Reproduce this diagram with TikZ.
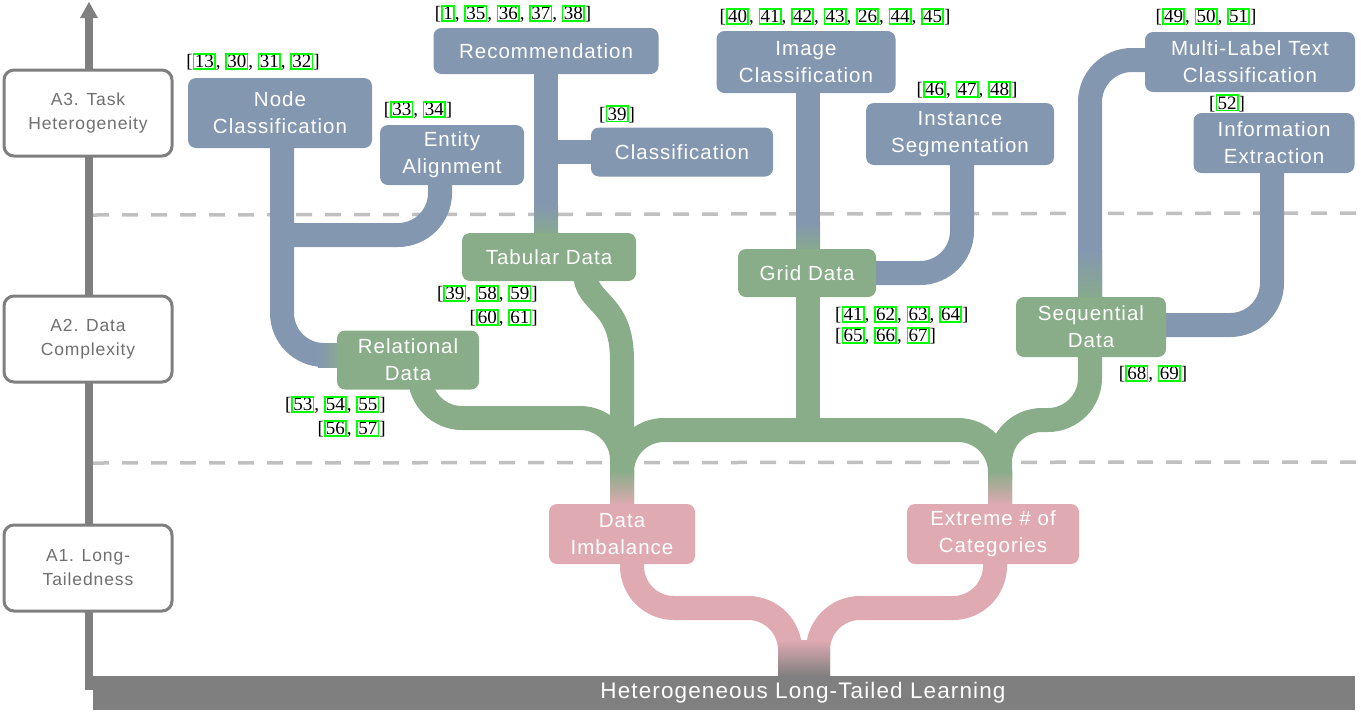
\documentclass[tikz,border=0pt]{standalone}
\usepackage{fontspec}
\setmainfont{Liberation Sans}
\newfontfamily\citefont{Liberation Serif}
\newfontfamily\widefont[LetterSpace=5]{Liberation Sans}
\definecolor{cblue}{HTML}{8497B0}
\definecolor{cgreen}{HTML}{88AD88}
\definecolor{cpink}{HTML}{E0AAB3}
\definecolor{cgrey}{HTML}{7F7F7F}
\definecolor{cdash}{HTML}{C0C0C0}
\definecolor{cgtext}{HTML}{707070}
\newcommand\cb[1]{{\setlength{\fboxsep}{0.4pt}\setlength{\fboxrule}{1.6pt}\fcolorbox{green}{white}{#1}}}
\tikzset{
 bn/.style={rounded corners=8pt, fill=#1, text=white, align=center, font=\widefont\fontsize{20.5}{27}\selectfont, inner sep=2pt},
 br/.style={line width=24pt, draw=#1, rounded corners=42pt},
 axbox/.style={draw=cgrey, line width=3pt, rounded corners=10pt, fill=white, text=cgtext, align=center, font=\widefont\fontsize{17.5}{24}\selectfont, minimum width=168pt, minimum height=86pt},
 cit/.style={font=\citefont\fontsize{19}{22}\selectfont, inner sep=0pt}
}
\begin{document}
\begin{tikzpicture}[x=1pt,y=-1pt]
\useasboundingbox (0,0) rectangle (1361,713);
% dashed separators
\draw[cdash, line width=3.5pt, dash pattern=on 16pt off 13pt] (93,215) -- (1361,213);
\draw[cdash, line width=3.5pt, dash pattern=on 16pt off 13pt] (93,463) -- (1361,462);
% axis
\coordinate (axb) at (89,690);
\coordinate (axt) at (89,2);
\draw[cgrey, line width=8pt] (axb) -- (89,18);
\fill[cgrey] (axt) -- (80,18) -- (98,18) -- cycle;
% bottom bar
\fill[cgrey] (93,676) rectangle (1355,710);
\node[text=white, inner sep=0pt, font=\widefont\fontsize{22.5}{26}\selectfont] (base) at (803,693) {Heterogeneous Long-Tailed Learning};
% axis boxes
\node[axbox] (a3) at (88,113) {A3. Task\\Heterogeneity};
\node[axbox] (a2) at (88,339) {A2. Data\\Complexity};
\node[axbox] (a1) at (88,568) {A1. Long-\\Tailedness};

% ---- branches: pink
\draw[br=cpink] (632,560) -- (632,608) -- (790,608) -- (790,676);
\draw[br=cpink] (995,560) -- (995,608) -- (818,608) -- (818,676);
\shade[top color=cpink, bottom color=cgrey] (778,640) rectangle (830,676);
% green
\draw[br=cgreen] (622,505) -- (622,430) -- (1000,430) -- (1000,505);
\draw[br=cgreen] (622,480) -- (622,418) -- (420,418) -- (420,380);
\draw[br=cgreen] (1000,480) -- (1000,420) -- (1090,420) -- (1090,350);
\draw[br=cgreen] (808,432) -- (808,285);
\draw[line width=24pt, cgreen] (622,445) -- (622,360) .. controls (622,300) and (585,305) .. (585,272);
\shade[top color=cgreen, bottom color=cpink] (610,470) rectangle (634,506);
\shade[top color=cgreen, bottom color=cpink] (988,470) rectangle (1012,506);
% blue
\draw[br=cblue] (282,140) -- (282,355) -- (345,355);
\draw[br=cblue] (282,235) -- (440,235) -- (440,178);
\draw[line width=24pt, cblue] (546,70) -- (546,240);
\draw[line width=24pt, cblue] (546,152) -- (600,152);
\draw[line width=24pt, cblue] (808,90) -- (808,255);
\draw[br=cblue] (870,273) -- (962,273) -- (962,160);
\draw[br=cblue] (1150,60) -- (1090,60) -- (1090,305);
\draw[br=cblue] (1160,325) -- (1272,325) -- (1272,168);
\shade[left color=cblue, right color=cgreen] (318,343) rectangle (345,367);
\shade[top color=cblue, bottom color=cgreen] (534,205) rectangle (558,240);
\shade[top color=cblue, bottom color=cgreen] (796,222) rectangle (820,255);
\shade[top color=cblue, bottom color=cgreen] (1078,250) rectangle (1102,305);

% ---- nodes
\node[bn=cblue, minimum width=184pt, minimum height=70pt] (nc) at (280,113) {Node\\Classification};
\node[bn=cblue, minimum width=144pt, minimum height=60pt] (ea) at (452,155) {Entity\\Alignment};
\node[bn=cblue, minimum width=225pt, minimum height=46pt] (rec) at (546,51) {Recommendation};
\node[bn=cblue, minimum width=182pt, minimum height=49pt] (cls) at (682,152) {Classification};
\node[bn=cblue, minimum width=179pt, minimum height=62pt] (ic) at (806,62) {Image\\Classification};
\node[bn=cblue, minimum width=188pt, minimum height=62pt] (is) at (960,134) {Instance\\Segmentation};
\node[bn=cblue, minimum width=210pt, minimum height=60pt] (ml) at (1250,62) {Multi-Label Text\\Classification};
\node[bn=cblue, minimum width=161pt, minimum height=60pt] (ie) at (1274,143) {Information\\Extraction};
\node[bn=cgreen, minimum width=174pt, minimum height=48pt] (tab) at (549,257) {Tabular Data};
\node[bn=cgreen, minimum width=138pt, minimum height=48pt] (grid) at (807,273) {Grid Data};
\node[bn=cgreen, minimum width=150pt, minimum height=60pt] (seq) at (1091,327) {Sequential\\Data};
\node[bn=cgreen, minimum width=142pt, minimum height=59pt] (rel) at (408,360) {Relational\\Data};
\node[bn=cpink, minimum width=146pt, minimum height=60pt] (di) at (622,534) {Data\\Imbalance};
\node[bn=cpink, minimum width=172pt, minimum height=60pt] (ex) at (993,534) {Extreme \# of\\Categories};

% ---- citations
\node[cit] (c1) at (253,62) {[\cb{13}, \cb{30}, \cb{31}, \cb{32}]};
\node[cit] (c2) at (513,14) {[\cb{1}, \cb{35}, \cb{36}, \cb{37}, \cb{38}]};
\node[cit] (c3) at (418,110) {[\cb{33}, \cb{34}]};
\node[cit] (c4) at (617,114) {[\cb{39}]};
\node[cit] (c5) at (835,17) {[\cb{40}, \cb{41}, \cb{42}, \cb{43}, \cb{26}, \cb{44}, \cb{45}]};
\node[cit] (c6) at (967,90) {[\cb{46}, \cb{47}, \cb{48}]};
\node[cit] (c7) at (1206,17) {[\cb{49}, \cb{50}, \cb{51}]};
\node[cit] (c8) at (1227,103) {[\cb{52}]};
\node[cit, anchor=east] (c9) at (538,294) {[\cb{39}, \cb{58}, \cb{59}]};
\node[cit, anchor=east] (c10) at (538,318) {[\cb{60}, \cb{61}]};
\node[cit, anchor=west] (c11) at (835,315) {[\cb{41}, \cb{62}, \cb{63}, \cb{64}]};
\node[cit, anchor=west] (c12) at (835,336) {[\cb{65}, \cb{66}, \cb{67}]};
\node[cit] (c13) at (1153,374) {[\cb{68}, \cb{69}]};
\node[cit, anchor=east] (c14) at (386,405) {[\cb{53}, \cb{54}, \cb{55}]};
\node[cit, anchor=east] (c15) at (386,429) {[\cb{56}, \cb{57}]};
\end{tikzpicture}
\end{document}
